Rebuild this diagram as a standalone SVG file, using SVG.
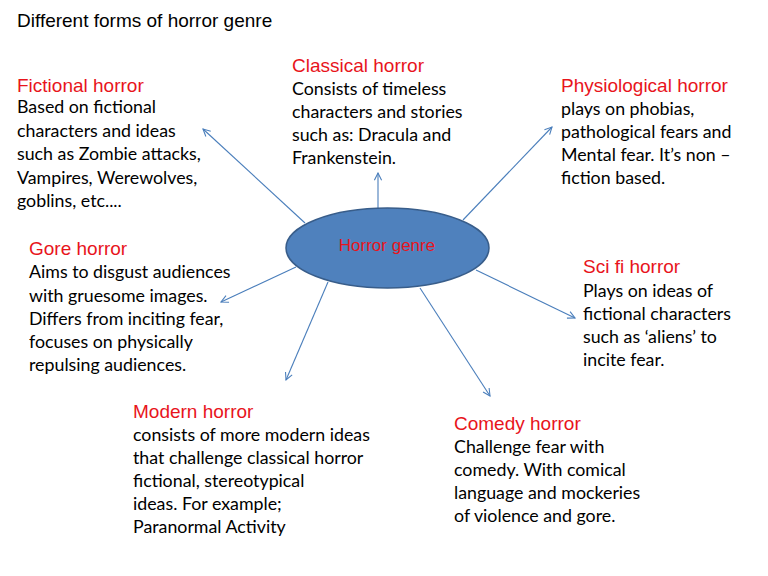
<svg xmlns="http://www.w3.org/2000/svg" width="768" height="576" viewBox="0 0 768 576">
<style>
.title{font-family:"Liberation Sans",Arial,sans-serif;font-size:19px;fill:#000}
.head{font-family:"Liberation Sans",Arial,sans-serif;font-size:19px;fill:#e8141c}
.body{font-family:Lato,"Open Sans",sans-serif;font-size:17.8px;fill:#000}
.conn line{stroke:#4a7ebb;stroke-width:1.1;marker-end:url(#arr)}
</style>
<defs>
<marker id="arr" viewBox="0 0 10 10" refX="9" refY="5" markerWidth="9" markerHeight="9" markerUnits="userSpaceOnUse" orient="auto">
<path d="M1,1 L9,5 L1,9" fill="none" stroke="#4a7ebb" stroke-width="1.2"/>
</marker>
</defs>
<rect width="768" height="576" fill="#fff"/>
<text class="title" x="17" y="27">Different forms of horror genre</text>
<g class="conn" id="connectors">
<line x1="305" y1="223" x2="203" y2="129"/>
<line x1="378" y1="208" x2="378" y2="173"/>
<line x1="463" y1="220" x2="552" y2="127"/>
<line x1="476" y1="270" x2="575" y2="318"/>
<line x1="296" y1="267" x2="221" y2="302"/>
<line x1="328" y1="282" x2="286" y2="380"/>
<line x1="420" y1="288" x2="490" y2="396"/>
</g>
<g id="center">
<ellipse cx="387.5" cy="248" rx="101.5" ry="40" fill="#4f81bd" stroke="#385d8a" stroke-width="1.5"/>
<text x="387" y="251" text-anchor="middle" style="font-family:'Liberation Sans',Arial,sans-serif;font-size:17px;fill:#e8141c">Horror genre</text>
</g>
<g id="fictional">
<text class="head" x="17" y="92">Fictional horror</text>
<text class="body" x="17" y="113">Based on fictional</text>
<text class="body" x="17" y="137">characters and ideas</text>
<text class="body" x="17" y="160">such as Zombie attacks,</text>
<text class="body" x="17" y="184">Vampires, Werewolves,</text>
<text class="body" x="17" y="207">goblins, etc....</text>
</g>
<g id="classical">
<text class="head" x="292" y="72">Classical horror</text>
<text class="body" x="292" y="95">Consists of timeless</text>
<text class="body" x="292" y="118">characters and stories</text>
<text class="body" x="292" y="141">such as: Dracula and</text>
<text class="body" x="292" y="164">Frankenstein.</text>
</g>
<g id="physiological">
<text class="head" x="561" y="92">Physiological horror</text>
<text class="body" x="561" y="115">plays on phobias,</text>
<text class="body" x="561" y="138">pathological fears and</text>
<text class="body" x="561" y="161">Mental fear. It’s non –</text>
<text class="body" x="561" y="184">fiction based.</text>
</g>
<g id="scifi">
<text class="head" x="583" y="273">Sci fi horror</text>
<text class="body" x="583" y="297">Plays on ideas of</text>
<text class="body" x="583" y="320">fictional characters</text>
<text class="body" x="583" y="343">such as ‘aliens’ to</text>
<text class="body" x="583" y="366">incite fear.</text>
</g>
<g id="gore">
<text class="head" x="29" y="255">Gore horror</text>
<text class="body" x="29" y="278">Aims to disgust audiences</text>
<text class="body" x="29" y="302">with gruesome images.</text>
<text class="body" x="29" y="325">Differs from inciting fear,</text>
<text class="body" x="29" y="348">focuses on physically</text>
<text class="body" x="29" y="371">repulsing audiences.</text>
</g>
<g id="modern">
<text class="head" x="133" y="418">Modern horror</text>
<text class="body" x="133" y="441">consists of more modern ideas</text>
<text class="body" x="133" y="464">that challenge classical horror</text>
<text class="body" x="133" y="487">fictional, stereotypical</text>
<text class="body" x="133" y="510">ideas. For example;</text>
<text class="body" x="133" y="533">Paranormal Activity</text>
</g>
<g id="comedy">
<text class="head" x="454" y="430">Comedy horror</text>
<text class="body" x="454" y="453">Challenge fear with</text>
<text class="body" x="454" y="476">comedy. With comical</text>
<text class="body" x="454" y="499">language and mockeries</text>
<text class="body" x="454" y="522">of violence and gore.</text>
</g>
</svg>
